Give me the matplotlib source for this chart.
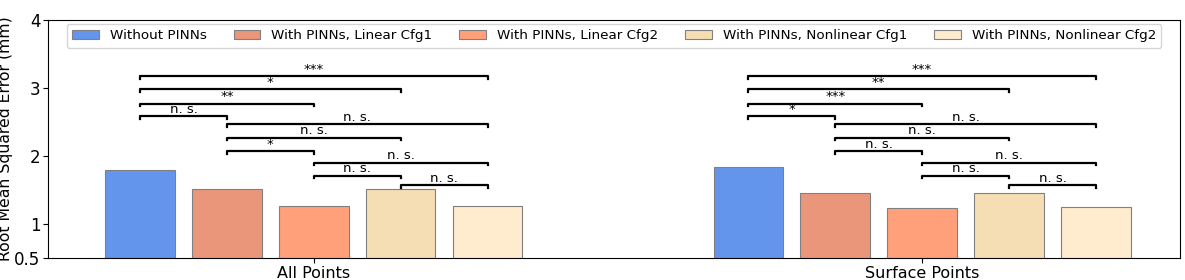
import matplotlib.pyplot as plt
import numpy as np

###############################################  data
groups = ['All Points', 'Surface Points']
series = ['Without PINNs', 'With PINNs, Linear Cfg1', 'With PINNs, Linear Cfg2',
          'With PINNs, Nonlinear Cfg1', 'With PINNs, Nonlinear Cfg2']
rmse_all = [1.79, 1.51, 1.27, 1.51, 1.26]
rmse_surface = [1.84, 1.46, 1.23, 1.46, 1.25]
colors = ['cornflowerblue', 'darksalmon', 'lightsalmon', 'wheat', 'blanchedalmond']

### significance brackets: (bar i, bar j, height, label)
pairs = [(0, 4), (0, 3), (0, 2), (0, 1), (1, 4), (1, 3), (1, 2), (2, 4), (2, 3), (3, 4)]
heights = [3.17, 2.98, 2.77, 2.58, 2.47, 2.27, 2.07, 1.90, 1.71, 1.57]
sig_all = ['***', '*', '**', 'n. s.', 'n. s.', 'n. s.', '*', 'n. s.', 'n. s.', 'n. s.']
sig_surface = ['***', '**', '***', '*', 'n. s.', 'n. s.', 'n. s.', 'n. s.', 'n. s.', 'n. s.']

###############################################  plot
fig, ax = plt.subplots(figsize=(11.85, 2.8), dpi=100)
fig.subplots_adjust(left=0.0405, right=0.9958, bottom=0.079, top=0.929)

x = np.arange(len(groups))
step = 1 / 7
width = step * 0.8
offsets = (np.arange(len(series)) - 2) * step

values = np.array([rmse_all, rmse_surface])
for k in range(len(series)):
    ax.bar(x + offsets[k], values[:, k], width, color=colors[k],
           edgecolor='gray', linewidth=0.8, label=series[k])

def bracket(x1, x2, y, text):
    tip = 0.04
    ax.plot([x1, x1, x2, x2], [y - tip, y, y, y - tip], color='black', lw=1.6)
    ax.text((x1 + x2) / 2, y + 0.005, text, ha='center', va='bottom', fontsize=9.5)

for g, sig in enumerate([sig_all, sig_surface]):
    for (i, j), h, s in zip(pairs, heights, sig):
        bracket(x[g] + offsets[i], x[g] + offsets[j], h, s)

ax.set_ylim(0.5, 4)
ax.set_yticks([0.5, 1, 2, 3, 4])
ax.set_yticklabels(['0.5', '1', '2', '3', '4'], fontsize=12)
ax.set_xlim(-0.437, 1.424)
ax.set_xticks(x)
ax.set_xticklabels(groups, fontsize=11.5)
ax.tick_params(axis='x', pad=2)
ax.tick_params(axis='y', pad=2)
ax.set_ylabel('Root Mean Squared Error (mm)', fontsize=11.3, labelpad=1)

ax.legend(loc='upper center', ncol=5, fontsize=9.7, columnspacing=2.0,
          bbox_to_anchor=(0.5, 1.0), borderaxespad=0.3)

fig.savefig('out.png')
plt.close()
